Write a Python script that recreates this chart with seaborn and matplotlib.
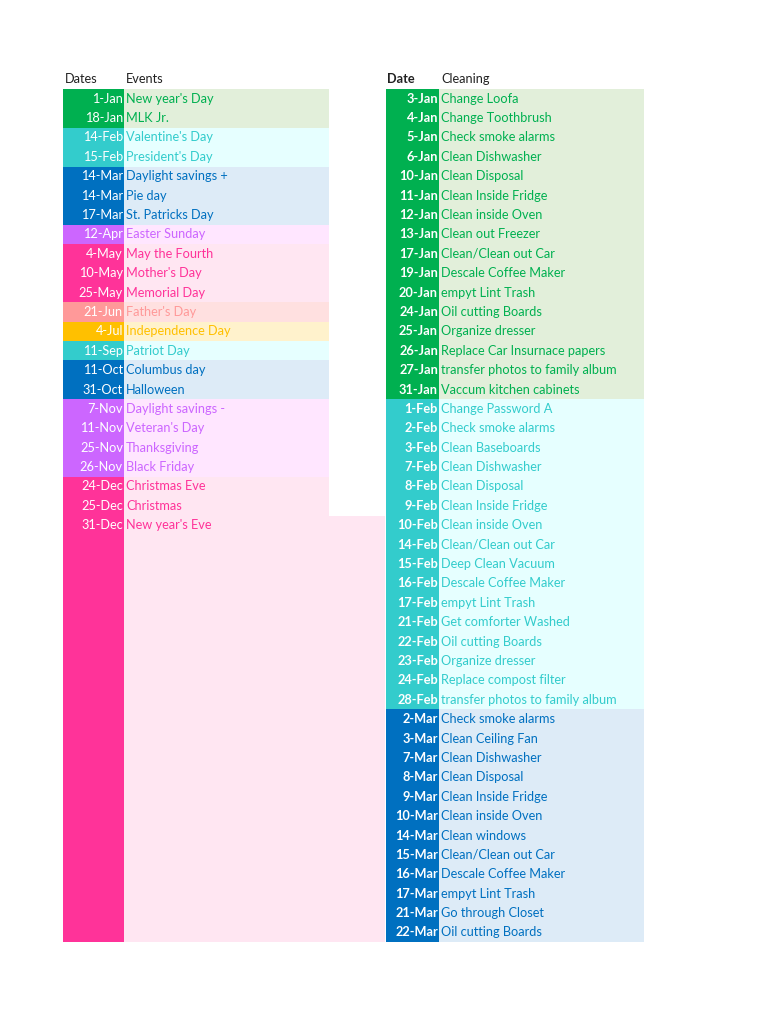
import matplotlib
matplotlib.use("Agg")
import matplotlib.pyplot as plt
from matplotlib.patches import Rectangle
import seaborn as sns

sns.set_theme(style="white")
plt.rcParams['font.family'] = ['Lato', 'DejaVu Sans']

# month -> (strong colour, light background)
PALETTE = {
    'Jan': ('#00B050', '#E2EFDA'),
    'Feb': ('#33CCCC', '#E6FFFF'),
    'Mar': ('#0070C0', '#DDEBF7'),
    'Apr': ('#CC66FF', '#FFE6FF'),
    'May': ('#FF3399', '#FFE6F2'),
    'Jun': ('#FF9999', '#FFE0E0'),
    'Jul': ('#FFC000', '#FFF2CC'),
    'Sep': ('#33CCCC', '#E6FFFF'),
    'Oct': ('#0070C0', '#DDEBF7'),
    'Nov': ('#CC66FF', '#FFE6FF'),
    'Dec': ('#FF3399', '#FFE6F2'),
}

event_dates = ['1-Jan', '18-Jan', '14-Feb', '15-Feb', '14-Mar', '14-Mar', '17-Mar',
               '12-Apr', '4-May', '10-May', '25-May', '21-Jun', '4-Jul', '11-Sep',
               '11-Oct', '31-Oct', '7-Nov', '11-Nov', '25-Nov', '26-Nov',
               '24-Dec', '25-Dec', '31-Dec']
events = ["New year's Day", "MLK Jr.", "Valentine's Day", "President's Day",
          "Daylight savings +", "Pie day", "St. Patricks Day", "Easter Sunday",
          "May the Fourth", "Mother's Day", "Memorial Day", "Father's Day",
          "Independence Day", "Patriot Day", "Columbus day", "Halloween",
          "Daylight savings -", "Veteran's Day", "Thanksgiving", "Black Friday",
          "Christmas Eve", "Christmas", "New year's Eve"]

clean_dates = ['3-Jan', '4-Jan', '5-Jan', '6-Jan', '10-Jan', '11-Jan', '12-Jan', '13-Jan',
               '17-Jan', '19-Jan', '20-Jan', '24-Jan', '25-Jan', '26-Jan', '27-Jan', '31-Jan',
               '1-Feb', '2-Feb', '3-Feb', '7-Feb', '8-Feb', '9-Feb', '10-Feb', '14-Feb',
               '15-Feb', '16-Feb', '17-Feb', '21-Feb', '22-Feb', '23-Feb', '24-Feb', '28-Feb',
               '2-Mar', '3-Mar', '7-Mar', '8-Mar', '9-Mar', '10-Mar', '14-Mar', '15-Mar',
               '16-Mar', '17-Mar', '21-Mar', '22-Mar']
cleaning = ["Change Loofa", "Change Toothbrush", "Check smoke alarms", "Clean Dishwasher",
            "Clean Disposal", "Clean Inside Fridge", "Clean inside Oven", "Clean out Freezer",
            "Clean/Clean out Car", "Descale Coffee Maker", "empyt Lint Trash", "Oil cutting Boards",
            "Organize dresser", "Replace Car Insurnace papers", "transfer photos to family album",
            "Vaccum kitchen cabinets",
            "Change Password A", "Check smoke alarms", "Clean Baseboards", "Clean Dishwasher",
            "Clean Disposal", "Clean Inside Fridge", "Clean inside Oven", "Clean/Clean out Car",
            "Deep Clean Vacuum", "Descale Coffee Maker", "empyt Lint Trash", "Get comforter Washed",
            "Oil cutting Boards", "Organize dresser", "Replace compost filter",
            "transfer photos to family album",
            "Check smoke alarms", "Clean Ceiling Fan", "Clean Dishwasher", "Clean Disposal",
            "Clean Inside Fridge", "Clean inside Oven", "Clean windows", "Clean/Clean out Car",
            "Descale Coffee Maker", "empyt Lint Trash", "Go through Closet", "Oil cutting Boards"]

TOP, RH, FS = 89.0, 19.39, 9.2
N_ROWS = len(clean_dates)

fig = plt.figure(figsize=(7.68, 10.24), dpi=100)
ax = fig.add_axes([0, 0, 1, 1])
ax.set_xlim(0, 768)
ax.set_ylim(1024, 0)
ax.axis('off')


def draw_table(ax, dates, labels, x0, xm, x1, bold_dates):
    for i, (d, lab) in enumerate(zip(dates, labels)):
        strong, light = PALETTE[d.split('-')[1]]
        y = TOP + i * RH
        ax.add_patch(Rectangle((x0, y), xm - x0, RH, color=strong, lw=0))
        ax.add_patch(Rectangle((xm, y), x1 - xm, RH, color=light, lw=0))
        ax.text(xm - 1, y + RH / 2, d, ha='right', va='center', color='white',
                fontsize=FS, fontweight='bold' if bold_dates else 'normal')
        ax.text(xm + 2, y + RH / 2, lab, ha='left', va='center', color=strong, fontsize=FS)


# left table: events
draw_table(ax, event_dates, events, 63, 124, 329, False)
# December fill runs down to the bottom of the right table
strong, light = PALETTE['Dec']
y_end = TOP + N_ROWS * RH
y_last = TOP + (len(events) - 1) * RH
ax.add_patch(Rectangle((63, TOP + len(events) * RH), 61, y_end - TOP - len(events) * RH,
                       color=strong, lw=0))
ax.add_patch(Rectangle((124, y_last), 385 - 124, y_end - y_last, color=light, lw=0, zorder=0))

# right table: cleaning
draw_table(ax, clean_dates, cleaning, 386, 439, 644, True)

ax.text(65, 79, 'Dates', ha='left', va='center', fontsize=FS, color='#222222')
ax.text(126, 79, 'Events', ha='left', va='center', fontsize=FS, color='#222222')
ax.text(387, 79, 'Date', ha='left', va='center', fontsize=FS, color='#222222', fontweight='bold')
ax.text(441, 79, 'Cleaning', ha='left', va='center', fontsize=FS, color='#222222')

fig.savefig('out.png', dpi=100)
